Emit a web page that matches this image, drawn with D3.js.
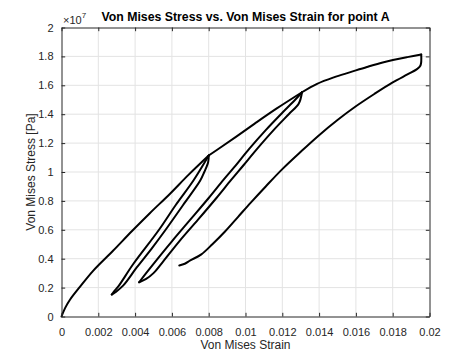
<!DOCTYPE html>
<html>
<head>
<meta charset="utf-8">
<script src="https://cdn.jsdelivr.net/npm/d3@7"></script>
<style>
  html, body { margin: 0; padding: 0; background: #fff; }
  svg { display: block; }
  text { font-family: "Liberation Sans", Arial, Helvetica, sans-serif; fill: #262626; }
</style>
</head>
<body>
<svg id="chart" width="474" height="355"></svg>
<script>
// ---- Data (stress in units of 1e7 Pa) ----
const xTicks = [0, 0.002, 0.004, 0.006, 0.008, 0.01, 0.012, 0.014, 0.016, 0.018, 0.02];
const xTickLabels = ["0", "0.002", "0.004", "0.006", "0.008", "0.01", "0.012", "0.014", "0.016", "0.018", "0.02"];
const yTicks = [0, 0.2, 0.4, 0.6, 0.8, 1, 1.2, 1.4, 1.6, 1.8, 2];
const yTickLabels = ["0", "0.2", "0.4", "0.6", "0.8", "1", "1.2", "1.4", "1.6", "1.8", "2"];

// initial loading to first peak
const loadStrain = [0, 0.0002, 0.00046, 0.001, 0.00173, 0.0028, 0.00382, 0.0048, 0.0059, 0.0069, 0.008];
const loadStress = [0, 0.06, 0.116, 0.205, 0.318, 0.455, 0.59, 0.715, 0.85, 0.98, 1.114];
// first unloading
const unload1Strain = [0.008, 0.00797, 0.00776, 0.00754, 0.0066, 0.00563, 0.0049, 0.0041, 0.00336, 0.00295, 0.00273];
const unload1Stress = [1.114, 1.068, 1.0, 0.941, 0.77, 0.595, 0.47, 0.341, 0.215, 0.17, 0.152];
// first reloading
const reload1Strain = [0.00273, 0.0029, 0.0031, 0.0039, 0.00527, 0.0062, 0.00717, 0.008];
const reload1Stress = [0.152, 0.18, 0.21, 0.363, 0.595, 0.77, 0.941, 1.114];
// upper curve to second peak
const upper1Strain = [0.008, 0.0087, 0.0095, 0.0105, 0.0117, 0.01307];
const upper1Stress = [1.114, 1.175, 1.245, 1.335, 1.44, 1.552];
// second unloading
const unload2Strain = [0.01307, 0.01289, 0.01235, 0.0116, 0.01063, 0.00988, 0.00922, 0.00842, 0.00742, 0.0064, 0.00552, 0.0050, 0.0046, 0.00422];
const unload2Stress = [1.552, 1.472, 1.40, 1.30, 1.16, 1.045, 0.945, 0.82, 0.67, 0.52, 0.38, 0.30, 0.26, 0.237];
// second reloading
const reload2Strain = [0.00422, 0.0046, 0.0051, 0.0060, 0.0070, 0.0080, 0.0088, 0.0094, 0.0102, 0.0111, 0.0120, 0.0127, 0.01307];
const reload2Stress = [0.237, 0.30, 0.38, 0.52, 0.67, 0.82, 0.945, 1.035, 1.16, 1.29, 1.41, 1.50, 1.552];
// upper curve to third peak
const upper2Strain = [0.01307, 0.01389, 0.0148, 0.0157, 0.0166, 0.01751, 0.01879, 0.01955];
const upper2Stress = [1.552, 1.610, 1.655, 1.691, 1.727, 1.760, 1.795, 1.813];
// final unloading
const unload3Strain = [0.01955, 0.01951, 0.0193, 0.0188, 0.0180, 0.0170, 0.0160, 0.0150, 0.0140, 0.0130, 0.0120, 0.0111, 0.0103, 0.0096, 0.0089, 0.0082, 0.0076, 0.0070, 0.0067, 0.0064];
const unload3Stress = [1.813, 1.737, 1.71, 1.675, 1.62, 1.54, 1.455, 1.36, 1.255, 1.14, 1.02, 0.90, 0.79, 0.69, 0.59, 0.50, 0.43, 0.388, 0.365, 0.353];

const segments = [
  [loadStrain, loadStress],
  [unload1Strain, unload1Stress],
  [reload1Strain, reload1Stress],
  [upper1Strain, upper1Stress],
  [unload2Strain, unload2Stress],
  [reload2Strain, reload2Stress],
  [upper2Strain, upper2Stress],
  [unload3Strain, unload3Stress]
];

// ---- Layout ----
const svg = d3.select("#chart");
const L = 61.5, R = 429.5, T = 27.5, B = 316.5;
const x = d3.scaleLinear().domain([0, 0.02]).range([L, R]);
const y = d3.scaleLinear().domain([0, 2]).range([B, T]);
const axisColor = "#262626";
const tickLen = 3.7;

// grid
svg.append("g").selectAll("line").data(xTicks.slice(1, -1)).join("line")
  .attr("x1", d => x(d)).attr("x2", d => x(d)).attr("y1", T).attr("y2", B)
  .attr("stroke", "#e3e3e3").attr("stroke-width", 1);
svg.append("g").selectAll("line").data(yTicks.slice(1, -1)).join("line")
  .attr("y1", d => y(d)).attr("y2", d => y(d)).attr("x1", L).attr("x2", R)
  .attr("stroke", "#e3e3e3").attr("stroke-width", 1);

// data curves
const line = d3.line()
  .x(d => x(d[0])).y(d => y(d[1]))
  .curve(d3.curveCatmullRom.alpha(0.5));
svg.append("g").selectAll("path").data(segments).join("path")
  .attr("d", s => line(s[0].map((v, i) => [v, s[1][i]])))
  .attr("fill", "none").attr("stroke", "#000").attr("stroke-width", 2)
  .attr("stroke-linejoin", "round").attr("stroke-linecap", "round");

// axes (bottom/left with inward ticks, plus top/right box)
const xAxisB = d3.axisBottom(x).tickValues(xTicks).tickFormat((d, i) => xTickLabels[i]).tickSizeInner(-tickLen).tickSizeOuter(0).tickPadding(12);
const xAxisT = d3.axisTop(x).tickValues(xTicks).tickFormat("").tickSizeInner(-tickLen).tickSizeOuter(0);
const yAxisL = d3.axisLeft(y).tickValues(yTicks).tickFormat((d, i) => yTickLabels[i]).tickSizeInner(-tickLen).tickSizeOuter(0).tickPadding(8);
const yAxisR = d3.axisRight(y).tickValues(yTicks).tickFormat("").tickSizeInner(-tickLen).tickSizeOuter(0);

function styleAxis(g) {
  g.select(".domain").attr("stroke", axisColor).attr("stroke-width", 1);
  g.selectAll(".tick line").attr("stroke", axisColor).attr("stroke-width", 1);
  g.selectAll(".tick text").attr("fill", axisColor).style("font-size", "11px")
    .style("font-family", '"Liberation Sans", Arial, sans-serif');
}
svg.append("g").attr("transform", `translate(0,${B})`).call(xAxisB).call(styleAxis);
svg.append("g").attr("transform", `translate(0,${T})`).call(xAxisT).call(styleAxis);
svg.append("g").attr("transform", `translate(${L},0)`).call(yAxisL).call(styleAxis);
svg.append("g").attr("transform", `translate(${R},0)`).call(yAxisR).call(styleAxis);

// exponent label
const ex = svg.append("text").attr("x", 63).attr("y", 23.5).style("font-size", "11px");
ex.append("tspan").text("\u00d710");
ex.append("tspan").attr("dy", -6).style("font-size", "8px").text("7");

// title
svg.append("text").attr("x", (L + R) / 2).attr("y", 20.5).attr("text-anchor", "middle")
  .style("font-size", "12.3px").style("font-weight", "bold").style("fill", "#000")
  .text("Von Mises Stress vs. Von Mises Strain for point A");

// axis labels
svg.append("text").attr("x", (L + R) / 2).attr("y", 348.5).attr("text-anchor", "middle")
  .style("font-size", "12px").text("Von Mises Strain");
svg.append("text").attr("transform", `translate(34.5,${(T + B) / 2}) rotate(-90)`)
  .attr("text-anchor", "middle").style("font-size", "12px").text("Von Mises Stress [Pa]");
</script>
</body>
</html>
